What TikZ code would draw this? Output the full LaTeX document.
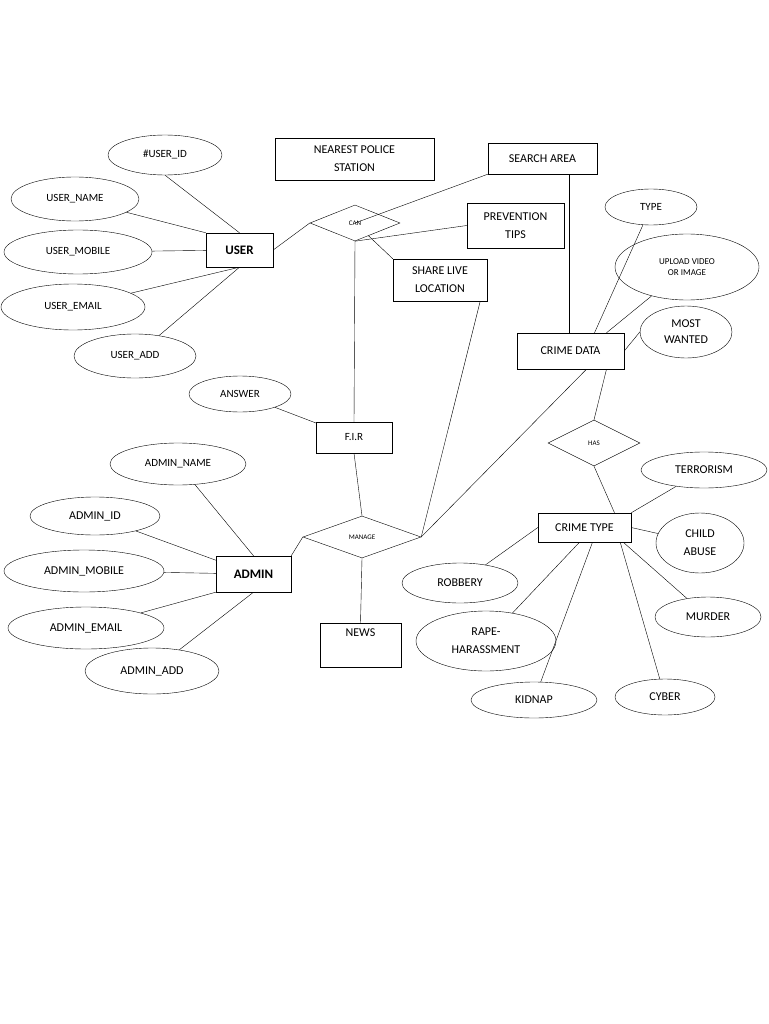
\documentclass[tikz,border=0pt]{standalone}
\usepackage{fontspec}
\setmainfont{Carlito}
\usetikzlibrary{shapes.geometric}
\begin{document}
\begin{tikzpicture}[x=1pt,y=-1pt,
 every node/.style={font=\fontsize{11}{13}\selectfont,align=center,draw,inner sep=0pt},
 at/.style={ellipse,minimum width=#1},
 ent/.style={rectangle},
 rel/.style={diamond,aspect=2.5,font=\fontsize{7}{8}\selectfont}]
\useasboundingbox (0,0) rectangle (768,1024);
% attributes
\node[ellipse,minimum width=114,minimum height=40] (uid) at (165,155) {\#USER\_ID};
\node[ellipse,minimum width=128,minimum height=44] (uname) at (75,199) {USER\_NAME};
\node[ellipse,minimum width=148,minimum height=44] (umob) at (78,252) {USER\_MOBILE};
\node[ellipse,minimum width=144,minimum height=46] (uem) at (73,307) {USER\_EMAIL};
\node[ellipse,minimum width=122,minimum height=44] (uadd) at (135,356) {USER\_ADD};
\node[ellipse,minimum width=102,minimum height=36] (ans) at (240,394) {ANSWER};
\node[ellipse,minimum width=136,minimum height=42] (aname) at (178,464) {ADMIN\_NAME};
\node[ellipse,minimum width=130,minimum height=38,font=\fontsize{12}{14}\selectfont] (aid) at (95,516) {ADMIN\_ID};
\node[ellipse,minimum width=160,minimum height=42,font=\fontsize{12}{14}\selectfont] (amob) at (84,571) {ADMIN\_MOBILE};
\node[ellipse,minimum width=156,minimum height=42,font=\fontsize{12}{14}\selectfont] (aem) at (86,628) {ADMIN\_EMAIL};
\node[ellipse,minimum width=134,minimum height=46,font=\fontsize{12}{14}\selectfont] (aadd) at (152,671) {ADMIN\_ADD};
\node[ellipse,minimum width=92,minimum height=36] (type) at (651,207) {TYPE};
\node[ellipse,minimum width=144,minimum height=66,font=\fontsize{9}{11}\selectfont] (upl) at (687,267) {UPLOAD VIDEO\\OR IMAGE};
\node[ellipse,minimum width=92,minimum height=52,font=\fontsize{12}{16}\selectfont] (most) at (686,332) {MOST\\WANTED};
\node[ellipse,minimum width=126,minimum height=36,font=\fontsize{12}{14}\selectfont] (terr) at (704,470) {TERRORISM};
\node[ellipse,minimum width=88,minimum height=60,font=\fontsize{12}{18}\selectfont] (child) at (700,543) {CHILD\\ABUSE};
\node[ellipse,minimum width=106,minimum height=40,font=\fontsize{12}{14}\selectfont] (mur) at (708,617) {MURDER};
\node[ellipse,minimum width=100,minimum height=36,font=\fontsize{12}{14}\selectfont] (cyb) at (665,697) {CYBER};
\node[ellipse,minimum width=126,minimum height=36,font=\fontsize{12}{14}\selectfont] (kid) at (534,700) {KIDNAP};
\node[ellipse,minimum width=140,minimum height=60,font=\fontsize{12}{18}\selectfont] (rape) at (486,641) {RAPE-\\HARASSMENT};
\node[ellipse,minimum width=116,minimum height=40,font=\fontsize{12}{14}\selectfont] (rob) at (460,583) {ROBBERY};
% entities
\node[ent,minimum width=159,minimum height=42,font=\fontsize{12}{18}\selectfont] (nps) at (354.5,159) {NEAREST POLICE\\STATION};
\node[ent,minimum width=109,minimum height=31,font=\fontsize{12}{14}\selectfont] (sa) at (542.5,158.5) {SEARCH AREA};
\node[ent,minimum width=97,minimum height=45,font=\fontsize{12}{18}\selectfont] (pt) at (515.5,225.5) {PREVENTION\\TIPS};
\node[ent,minimum width=94,minimum height=42,font=\fontsize{12}{18}\selectfont] (sll) at (440,280) {SHARE LIVE\\LOCATION};
\node[ent,minimum width=67,minimum height=34,font=\bfseries\fontsize{13}{15}\selectfont] (user) at (239.5,250) {USER};
\node[ent,minimum width=107,minimum height=36,font=\fontsize{12}{14}\selectfont] (cd) at (570.5,351) {CRIME DATA};
\node[ent,minimum width=76,minimum height=31] (fir) at (354,437.5) {F.I.R};
\node[ent,minimum width=75,minimum height=36,font=\bfseries\fontsize{13}{15}\selectfont] (admin) at (253.5,574) {ADMIN};
\node[ent,minimum width=81,minimum height=44,font=\fontsize{12}{14}\selectfont,anchor=north] (news) at (360.5,623) {\raisebox{0pt}{NEWS}\\[12pt]};
\node[ent,minimum width=93,minimum height=29,font=\fontsize{12}{14}\selectfont] (ct) at (584.5,527.5) {CRIME TYPE};
% relationships
\node[rel,minimum width=90,minimum height=36] (can) at (355,223) {CAN};
\node[rel,minimum width=118,minimum height=42] (man) at (362,537) {MANAGE};
\node[rel,minimum width=92,minimum height=46,aspect=2] (has) at (594,443) {HAS};
\tikzset{every path/.style={draw}}
\draw (uid.south) -- (user.north);
\draw (uname) -- (user.north west);
\draw (umob) -- (user);
\draw (uem) -- (user.south);
\draw (uadd) -- (user.south);
\draw (user.east) -- (can.west);
\draw (can.center) -- (sa.south west);
\draw (can.south) -- (pt.west);
\draw (can) -- (sll.north west);
\draw (can.south) -- (fir.north);
\draw (sa.south east) ++(-28,0) coordinate (sab) -- (sab |- cd.north);
\draw (type) -- ([xshift=24]cd.north);
\draw (upl) -- ([xshift=36]cd.north);
\draw (most.west) -- (cd.east);
\draw ([xshift=36]cd.south) -- (has.north);
\draw (has.south) -- ([xshift=30]ct.north);
\draw ([xshift=-7]sll.south east) -- (man.east);
\draw ([xshift=16]cd.south) -- (man.east);
\draw (ans) -- (fir);
\draw (fir.south) -- (man.north);
\draw (man.west) -- (admin.north east);
\draw (man.south) -- (news.north);
\draw (aname) -- (admin.north);
\draw (aid) -- (admin);
\draw (amob) -- (admin);
\draw (aem) -- (admin.south west);
\draw (aadd) -- (admin.south);
\draw (terr) -- (ct.north east);
\draw (child) -- (ct.east);
\draw (mur) -- ([xshift=-8]ct.south east);
\draw (cyb) -- ([xshift=-11]ct.south east);
\draw (kid) -- ([xshift=8]ct.south);
\draw (rape) -- ([xshift=-5]ct.south);
\draw (rob) -- (ct.west);
\end{tikzpicture}
\end{document}
